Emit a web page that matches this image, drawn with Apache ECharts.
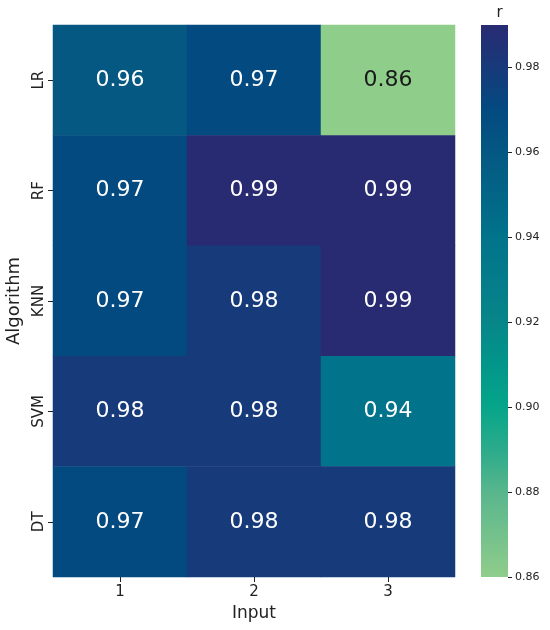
<!DOCTYPE html>
<html>
<head>
<meta charset="utf-8">
<script src="https://cdn.jsdelivr.net/npm/echarts@6/dist/echarts.min.js"></script>
<style>
  html, body { margin: 0; padding: 0; background: #fff; }
  #chart { width: 550px; height: 630px; }
</style>
</head>
<body>
<div id="chart"></div>
<script>
// rows / columns of the heatmap
const algorithms = ['LR', 'RF', 'KNN', 'SVM', 'DT'];
const inputs = ['1', '2', '3'];
// correlation r per algorithm (row) and input (column)
const rValues = [
    [0.96, 0.97, 0.86],
    [0.97, 0.99, 0.99],
    [0.97, 0.98, 0.99],
    [0.98, 0.98, 0.94],
    [0.97, 0.98, 0.98]
];
const rMin = 0.86;
const rMax = 0.99;
const colorbarTicks = [0.86, 0.88, 0.90, 0.92, 0.94, 0.96, 0.98];
// colormap, evenly spaced from rMin to rMax
const colormap = [
    '#8fcd8b', '#74c18c', '#58b68d', '#2cab8b', '#06a58a', '#02968a', '#078689',
    '#047c8a', '#01738b', '#036587', '#045882', '#034a80', '#173a7a', '#282b72'
];

const FONT = 'DejaVu Sans';
const INK = '#222';

// plot box
const plotTop = 25, plotBottom = 53;
const plotH = 630 - plotTop - plotBottom;
const cbLeft = 481, cbWidth = 27;
// tick axis only spans up to the last tick
const tickMax = colorbarTicks[colorbarTicks.length - 1];
const tickTop = plotTop + plotH * (rMax - tickMax) / (rMax - rMin);

let chart = echarts.init(document.getElementById('chart'), null, {renderer: 'canvas'});

let cells = [];
rValues.forEach((row, i) => {
    row.forEach((v, j) => {
        cells.push({
            value: [j, i, v],
            label: {color: v < 0.9 ? '#1a1a1a' : '#ffffff'}
        });
    });
});

// gradient for the colorbar, bottom (rMin) to top (rMax)
let cbGradient = new echarts.graphic.LinearGradient(0, 1, 0, 0,
    colormap.map((c, k) => ({offset: k / (colormap.length - 1), color: c})));

chart.setOption({
    backgroundColor: '#fff',
    animation: false,
    textStyle: {fontFamily: FONT},
    title: {
        text: 'r',
        left: cbLeft + cbWidth / 2,
        top: 1,
        textAlign: 'center',
        textStyle: {fontFamily: FONT, fontSize: 15, fontWeight: 'normal', color: INK}
    },
    grid: [
        {left: 53, right: 95, top: plotTop, bottom: plotBottom, outerBoundsMode: 'none', containLabel: false},
        {left: cbLeft, width: cbWidth, top: plotTop, bottom: plotBottom, outerBoundsMode: 'none', containLabel: false},
        {left: cbLeft, width: cbWidth, top: tickTop, bottom: plotBottom, outerBoundsMode: 'none', containLabel: false}
    ],
    xAxis: [{
        type: 'category',
        data: inputs,
        gridIndex: 0,
        name: 'Input',
        nameLocation: 'middle',
        nameGap: 27,
        nameTextStyle: {fontFamily: FONT, fontSize: 17, color: INK},
        axisLine: {show: false},
        axisTick: {show: true, alignWithLabel: true, length: 5, lineStyle: {color: INK}},
        axisLabel: {fontFamily: FONT, fontSize: 15, color: INK, margin: 8},
        splitLine: {show: false},
        splitArea: {show: false}
    }, {
        type: 'category',
        data: ['r'],
        gridIndex: 1,
        show: false
    }, {
        type: 'category',
        data: ['r'],
        gridIndex: 2,
        show: false
    }],
    yAxis: [{
        type: 'category',
        data: algorithms,
        inverse: true,
        gridIndex: 0,
        name: 'Algorithm',
        nameLocation: 'middle',
        nameRotate: 90,
        nameGap: 30,
        nameTextStyle: {fontFamily: FONT, fontSize: 18, color: INK},
        axisLine: {show: false},
        axisTick: {show: true, alignWithLabel: true, length: 5, lineStyle: {color: INK}},
        axisLabel: {fontFamily: FONT, fontSize: 15, color: INK, rotate: 90, margin: 6},
        splitLine: {show: false},
        splitArea: {show: false}
    }, {
        type: 'value',
        gridIndex: 1,
        min: rMin,
        max: rMax,
        show: false
    }, {
        type: 'value',
        gridIndex: 2,
        position: 'right',
        min: rMin,
        max: tickMax,
        interval: 0.02,
        axisLine: {show: false, onZero: false},
        axisTick: {show: true, length: 4, lineStyle: {color: INK}},
        axisLabel: {
            fontFamily: FONT, fontSize: 11, color: INK, margin: 7,
            formatter: v => v.toFixed(2)
        },
        splitLine: {show: false}
    }],
    visualMap: {
        type: 'continuous',
        show: false,
        min: rMin,
        max: rMax,
        dimension: 2,
        seriesIndex: 0,
        inRange: {color: colormap}
    },
    series: [{
        type: 'heatmap',
        xAxisIndex: 0,
        yAxisIndex: 0,
        data: cells,
        label: {
            show: true,
            fontFamily: FONT,
            fontSize: 22,
            formatter: p => p.value[2].toFixed(2)
        },
        itemStyle: {borderWidth: 0},
        emphasis: {disabled: true}
    }, {
        // colorbar: transparent base up to rMin, gradient from rMin to rMax
        type: 'bar',
        xAxisIndex: 1,
        yAxisIndex: 1,
        stack: 'cb',
        barWidth: '100%',
        data: [rMin],
        itemStyle: {color: 'transparent'},
        silent: true
    }, {
        type: 'bar',
        xAxisIndex: 1,
        yAxisIndex: 1,
        stack: 'cb',
        barWidth: '100%',
        data: [rMax - rMin],
        itemStyle: {color: cbGradient},
        silent: true
    }]
});
</script>
</body>
</html>
